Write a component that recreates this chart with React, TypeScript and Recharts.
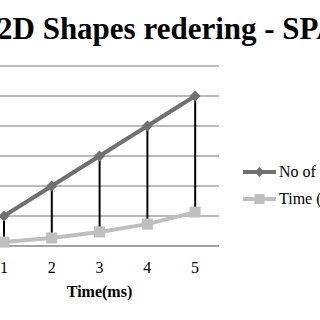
import React from "react";
import { ComposedChart, Line, Bar, XAxis, YAxis, CartesianGrid } from "recharts";

const categories = ["1", "2", "3", "4", "5"];
const noOfShapes = [10, 20, 30, 40, 50];
const timeTaken = [1.3, 2.7, 4.7, 7.3, 11.3];
const yTicks = [0, 10, 20, 30, 40, 50, 60];
const seriesNames = ["No of Shapes", "Time (ms)"];

const data = categories.map((c, i) => ({
  cat: c,
  shapes: noOfShapes[i],
  time: timeTaken[i],
  range: [timeTaken[i], noOfShapes[i]],
}));

const DARK = "#707070";
const LIGHT = "#bfbfbf";
const SERIF = "'Liberation Serif', 'DejaVu Serif', serif";

const Diamond = (props: any) => {
  const { cx, cy } = props;
  if (cx == null || cy == null) return null;
  const r = 5.5;
  return <path d={`M${cx},${cy - r} L${cx + r},${cy} L${cx},${cy + r} L${cx - r},${cy} Z`} fill={DARK} />;
};

const Square = (props: any) => {
  const { cx, cy } = props;
  if (cx == null || cy == null) return null;
  const s = 11;
  return <rect x={cx - s / 2} y={cy - s / 2} width={s} height={s} fill={LIGHT} />;
};

const LegendBox = () => (
  <div
    style={{
      position: "absolute",
      left: 243,
      top: 158,
      fontFamily: SERIF,
      fontSize: 16,
      color: "#000",
    }}
  >
    {seriesNames.map((n, i) => (
      <div key={n} style={{ display: "flex", alignItems: "center", height: 27, whiteSpace: "nowrap" }}>
        <svg width={34} height={14} style={{ marginRight: 2 }}>
          <line x1={0} y1={7} x2={33} y2={7} stroke={i === 0 ? DARK : LIGHT} strokeWidth={4} />
          {i === 0 ? (
            <path d="M16.5,2 L21.5,7 L16.5,12 L11.5,7 Z" fill={DARK} />
          ) : (
            <rect x={11.5} y={2} width={10} height={10} fill={LIGHT} />
          )}
        </svg>
        <span>{n}</span>
      </div>
    ))}
  </div>
);

export default function App() {
  return (
    <div style={{ position: "absolute", left: 0, top: 0, width: 320, height: 320, overflow: "hidden", background: "#fff" }}>
      <div
        style={{
          position: "absolute",
          left: -3,
          top: 11,
          fontFamily: SERIF,
          fontWeight: "bold",
          fontSize: 31,
          lineHeight: "36px",
          whiteSpace: "nowrap",
          color: "#000",
        }}
      >
        2D Shapes redering - SPA Framework
      </div>
      <div style={{ position: "absolute", left: -20, top: 0 }}>
        <ComposedChart
          width={340}
          height={320}
          data={data}
          margin={{ top: 66, right: 101, bottom: 24, left: 0 }}
        >
          <CartesianGrid horizontal vertical={false} stroke="#a3a3a3" strokeWidth={1.5} />
          <XAxis
            dataKey="cat"
            axisLine={{ stroke: "#a3a3a3", strokeWidth: 2 }}
            tickLine={false}
            tickMargin={10}
            height={50}
            tick={{ fill: "#000", fontFamily: SERIF, fontSize: 16 }}
            label={{
              value: "Time(ms)",
              position: "insideBottom",
              offset: -1,
              fill: "#000",
              fontFamily: SERIF,
              fontWeight: "bold",
              fontSize: 16,
            }}
          />
          <YAxis hide domain={[0, 60]} ticks={yTicks} />
          <Bar dataKey="range" barSize={2} fill="#000" isAnimationActive={false} />
          <Line
            dataKey="shapes"
            name={seriesNames[0]}
            stroke={DARK}
            strokeWidth={4}
            dot={<Diamond />}
            activeDot={false}
            isAnimationActive={false}
          />
          <Line
            dataKey="time"
            name={seriesNames[1]}
            stroke={LIGHT}
            strokeWidth={4}
            dot={<Square />}
            activeDot={false}
            isAnimationActive={false}
          />
        </ComposedChart>
      </div>
      <LegendBox />
    </div>
  );
}
